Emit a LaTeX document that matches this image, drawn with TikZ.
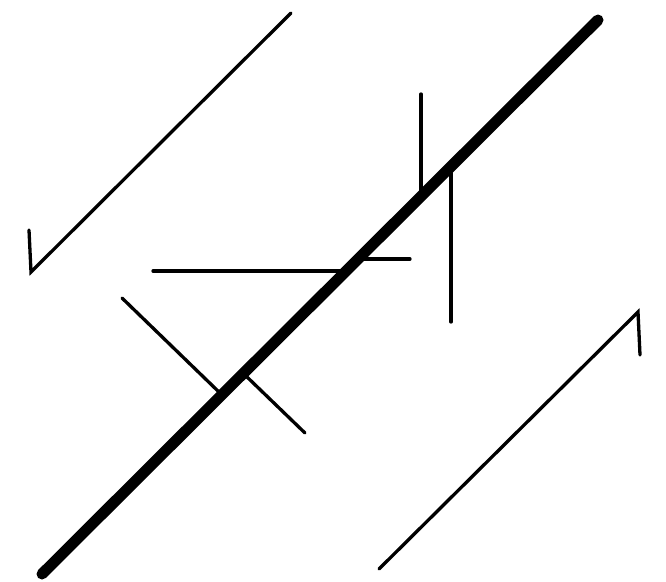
\documentclass[tikz,border=0pt]{standalone}
\begin{document}
\begin{tikzpicture}[x=1pt,y=-1pt,
  thin line/.style={line width=3.3pt,line cap=round,line join=miter},
  bar/.style={line width=11pt,line cap=round}]
\useasboundingbox[fill=white] (0,0) rectangle (666,581);
% top-left hook
\coordinate (a1) at (29,230);
\coordinate (a2) at (31,272);
\coordinate (a3) at (291,13);
\draw[thin line] (a1) -- (a2) -- (a3);
% thick bar
\coordinate (b1) at (42,574);
\coordinate (b2) at (598,20);
\draw[bar] (b1) -- (b2);
% horizontal segments
\coordinate (h1) at (153,271);
\coordinate (h2) at (345,271);
\coordinate (h3) at (362,259);
\coordinate (h4) at (410,259);
\draw[thin line] (h1) -- (h2);
\draw[thin line] (h3) -- (h4);
% vertical segments
\coordinate (v1) at (421,94);
\coordinate (v2) at (421,192);
\coordinate (v3) at (451,173);
\coordinate (v4) at (451,322);
\draw[thin line] (v1) -- (v2);
\draw[thin line] (v3) -- (v4);
% oblique segments
\coordinate (d1) at (122,298);
\coordinate (d2) at (220,393);
\coordinate (d3) at (246,376);
\coordinate (d4) at (305,433);
\draw[thin line] (d1) -- (d2);
\draw[thin line] (d3) -- (d4);
% bottom-right hook
\coordinate (c1) at (379,569);
\coordinate (c2) at (638,312);
\coordinate (c3) at (640,355);
\draw[thin line] (c1) -- (c2) -- (c3);
\end{tikzpicture}
\end{document}
